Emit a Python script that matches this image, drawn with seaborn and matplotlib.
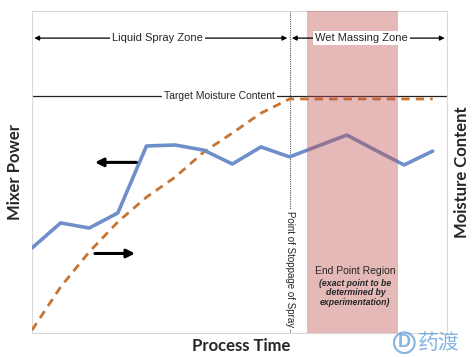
import matplotlib
matplotlib.use("Agg")
import matplotlib.pyplot as plt
import numpy as np
import pandas as pd
import seaborn as sns

# process time steps (arbitrary units)
time_steps = list(range(15))
mixer_power = [26.4, 34.2, 32.6, 37.3, 58.1, 58.4, 56.8, 52.5, 57.8, 54.7,
               58.1, 61.5, 56.8, 52.2, 56.5]
moisture_time = [0, 1, 2, 3, 4, 5, 6, 7, 8, 9, 10, 11, 12, 13, 14]
moisture = [0.9, 14.3, 25.2, 34.5, 42.2, 48.4, 56.2, 62.1, 68.3, 72.7,
            72.7, 72.7, 72.7, 72.7, 72.7]
target_moisture = 73.6
spray_stop = 9
end_region = (9.6, 12.8)

power_df = pd.DataFrame({"time": time_steps, "power": mixer_power})
moist_df = pd.DataFrame({"time": moisture_time, "moisture": moisture})

sns.set_theme(style="white")
plt.rcParams["font.family"] = ["Liberation Sans", "DejaVu Sans"]

fig = plt.figure(figsize=(4.74, 3.57), dpi=100)
ax = fig.add_axes([0.0675, 0.0672, 0.8755, 0.9018])

sns.lineplot(data=moist_df, x="time", y="moisture", ax=ax, color="#C8732F",
             lw=2, linestyle=(0, (3, 2.2)), zorder=3)
sns.lineplot(data=power_df, x="time", y="power", ax=ax, color="#6F8FCB",
             lw=2.6, zorder=4)

ax.axvspan(*end_region, color="#C0504D", alpha=0.4, lw=0, zorder=5)
ax.axhline(target_moisture, color="#222222", lw=0.9, zorder=2)
ax.axvline(spray_stop, color="#555555", lw=0.8, linestyle=(0, (1, 1)), zorder=2)

ax.set_xlim(0, 14.5)
ax.set_ylim(0, 100)
ax.set_xticks([])
ax.set_yticks([])
ax.set_xlabel("")
ax.set_ylabel("")
for s in ax.spines.values():
    s.set_color("#D9D9D9")
    s.set_linewidth(0.8)

# zone arrows
zy = 91.6
ax.annotate("", xy=(0.08, zy), xytext=(spray_stop - 0.08, zy),
            arrowprops=dict(arrowstyle="<|-|>", color="black", lw=0.9,
                            mutation_scale=7, shrinkA=0, shrinkB=0), zorder=6)
ax.annotate("", xy=(spray_stop + 0.08, zy), xytext=(14.42, zy),
            arrowprops=dict(arrowstyle="<|-|>", color="black", lw=0.9,
                            mutation_scale=7, shrinkA=0, shrinkB=0), zorder=6)
bbox = dict(facecolor="white", edgecolor="none", pad=1.5)
ax.text(4.37, zy, "Liquid Spray Zone", ha="center", va="center", fontsize=8,
        bbox=bbox, zorder=7)
ax.text(11.5, zy, "Wet Massing Zone", ha="center", va="center", fontsize=8,
        bbox=bbox, zorder=7)
ax.text(6.55, target_moisture, "Target Moisture Content", ha="center",
        va="center", fontsize=7.5, bbox=bbox, zorder=7)

ax.text(spray_stop + 0.03, 20, "Point of Stoppage of Spray", rotation=-90,
        ha="center", va="center", fontsize=7, bbox=bbox, zorder=7)

ax.text(11.3, 19.4, "End Point Region", ha="center", va="center",
        fontsize=7.5, zorder=8)
ax.text(11.3, 12.5, "(exact point to be\ndetermined by\nexperimentation)",
        ha="center", va="center", fontsize=6.3, fontstyle="italic",
        fontweight="bold", linespacing=1.05, zorder=8)

# direction arrows
ax.annotate("", xy=(2.2, 53.0), xytext=(3.65, 53.0),
            arrowprops=dict(arrowstyle="-|>", color="black", lw=2.2,
                            mutation_scale=12, shrinkA=0, shrinkB=0), zorder=6)
ax.annotate("", xy=(3.6, 24.7), xytext=(2.2, 24.7),
            arrowprops=dict(arrowstyle="-|>", color="black", lw=2.2,
                            mutation_scale=12, shrinkA=0, shrinkB=0), zorder=6)

lab = dict(fontsize=12, fontweight="bold", family=["Lato", "DejaVu Sans"])
fig.text(0.032, 0.518, "Mixer Power", rotation=90, ha="center", va="center", **lab)
fig.text(0.975, 0.518, "Moisture Content", rotation=90, ha="center",
         va="center", **lab)
fig.text(0.508, 0.032, "Process Time", ha="center", va="center", **lab)

fig.text(0.925, 0.04, "药渡", ha="center", va="center", fontsize=15,
         color="#5B9BD5", alpha=0.75, family=["Noto Sans CJK SC", "DejaVu Sans"])
fig.text(0.853, 0.04, "D", ha="center", va="center", fontsize=13,
         fontweight="bold", color="#5B9BD5", alpha=0.75,
         bbox=dict(boxstyle="circle,pad=0.1", facecolor="none",
                   edgecolor="#5B9BD5", alpha=0.75, lw=1.5))

fig.savefig("out.png", dpi=100)
